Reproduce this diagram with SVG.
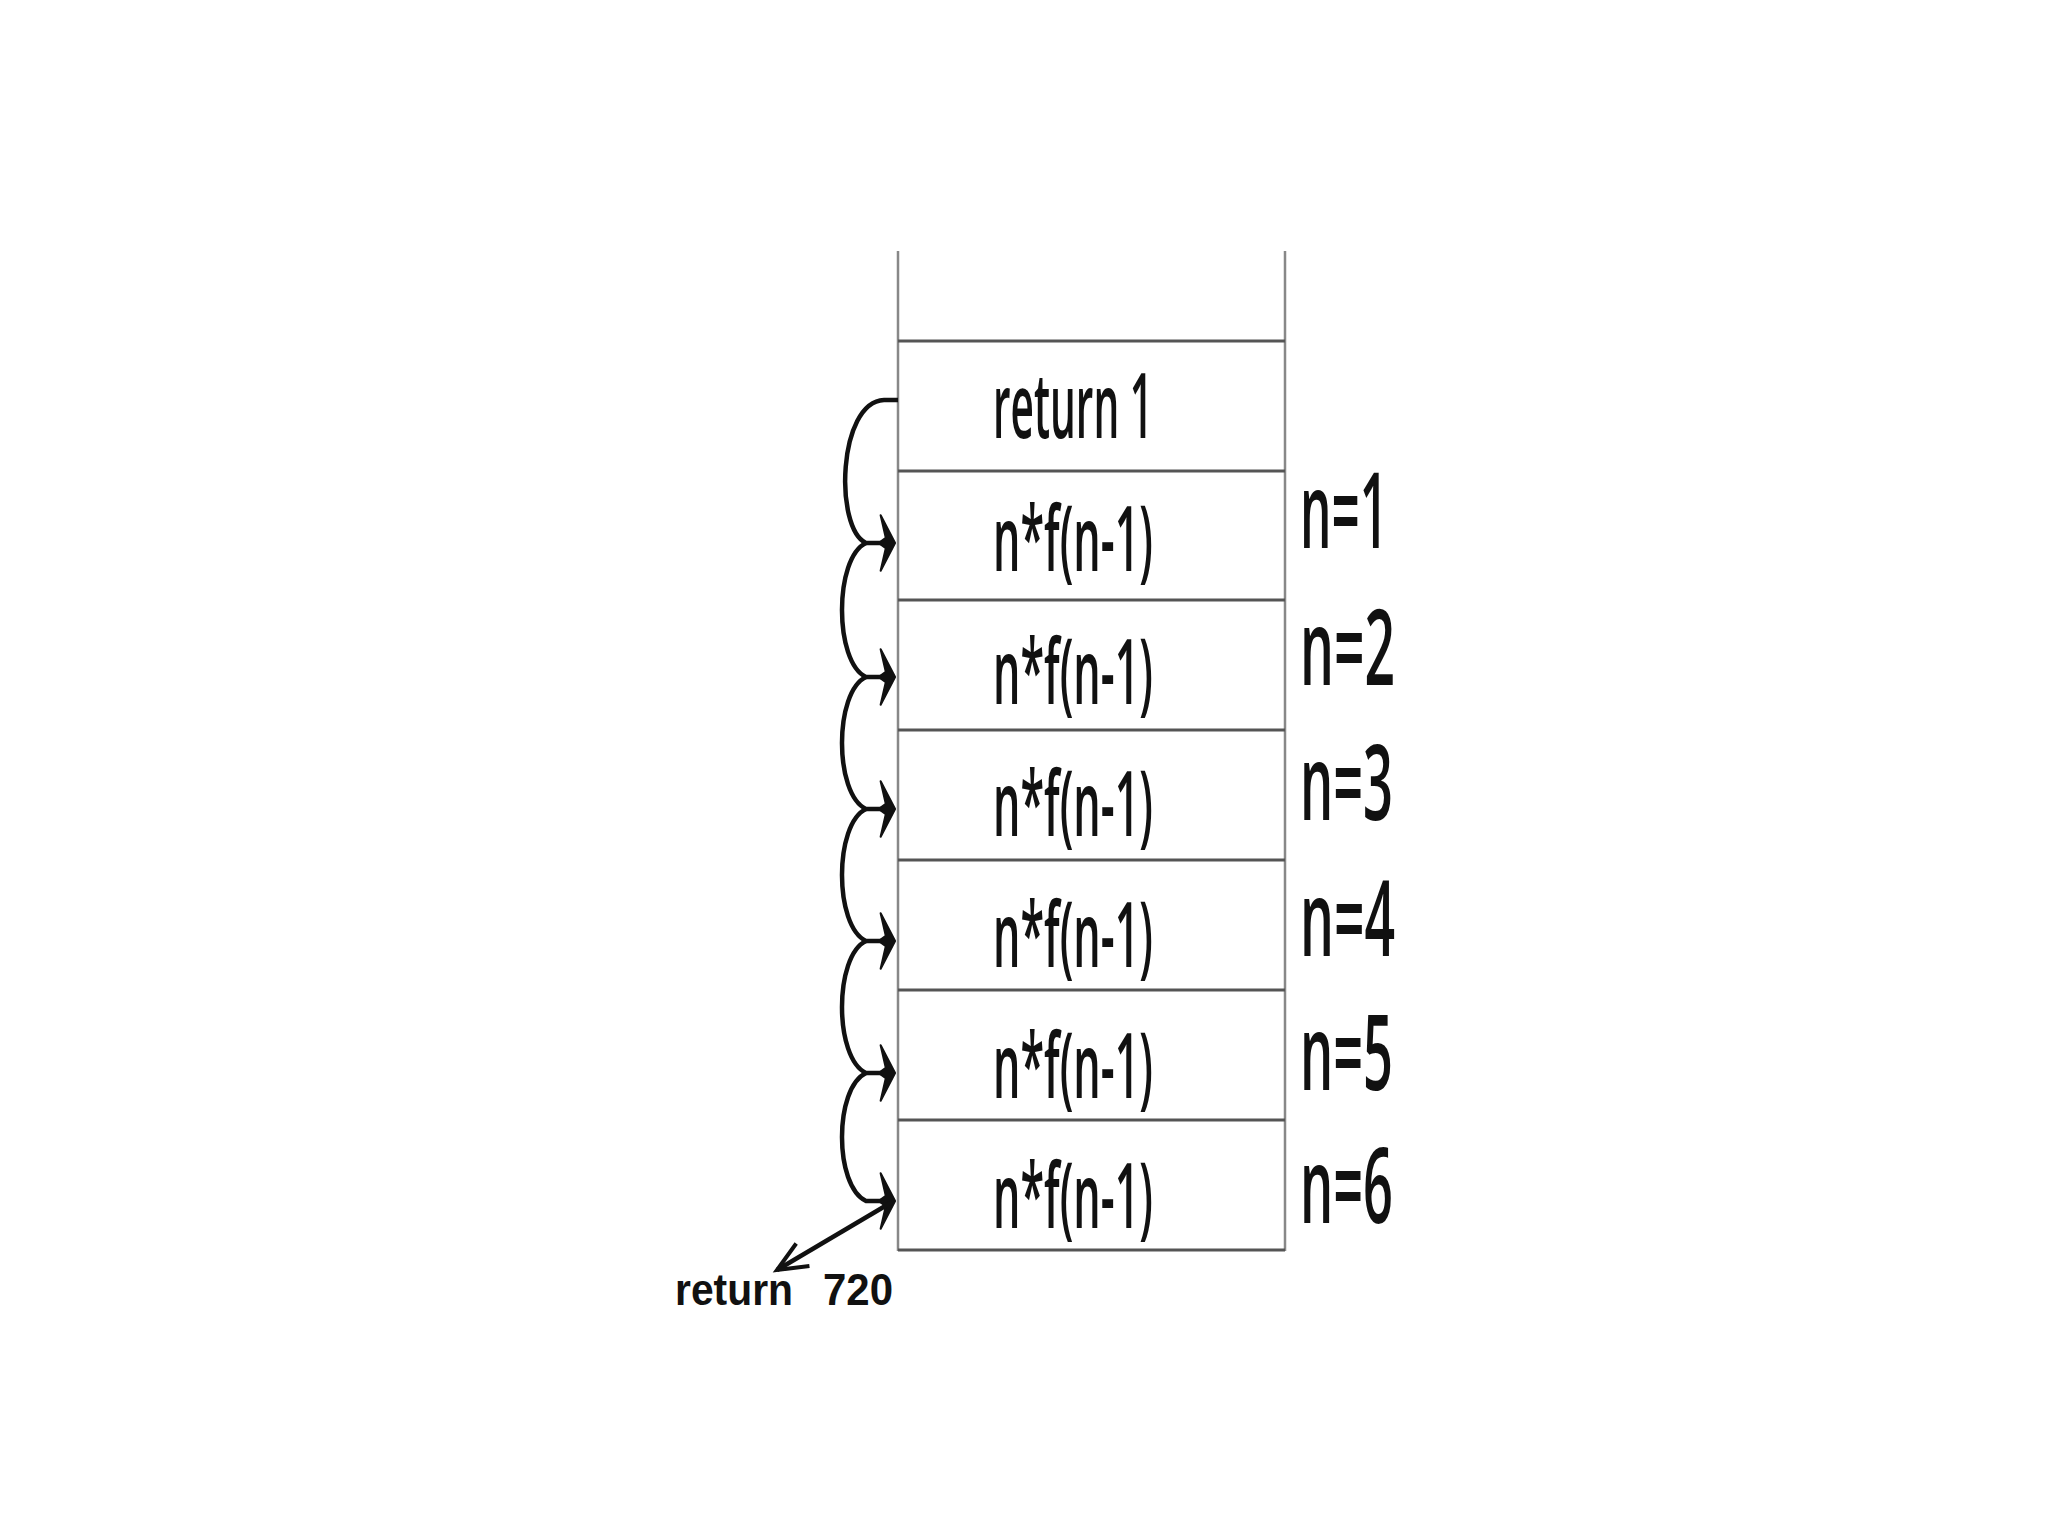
<svg xmlns="http://www.w3.org/2000/svg" width="2048" height="1536" viewBox="0 0 2048 1536">
<style>
.bg{fill:#fff}
.vline{stroke:#888;stroke-width:2.5;fill:none}
.hline{stroke:#555;stroke-width:3;fill:none}
.cell{font-family:"Open Sans","Noto Sans","DejaVu Sans",sans-serif;font-weight:600;font-size:90px;fill:#111}
.lab{font-family:"Open Sans","Noto Sans","DejaVu Sans",sans-serif;font-weight:600;font-size:106px;fill:#111}
.ret{font-family:"Liberation Sans",Arial,sans-serif;font-weight:bold;font-size:45px;fill:#111}
.conn{stroke:#111;stroke-width:4.5;fill:none}
</style>
<defs>
<marker id="barb" markerUnits="userSpaceOnUse" markerWidth="30" markerHeight="70" viewBox="-18 -34 22 68" refX="0" refY="0" orient="auto">
<path d="M2,0 L-12,-27 L-7,-5 L-14,0 L-7,5 L-12,27 Z" fill="#111" stroke="#111" stroke-width="2" stroke-linejoin="round"/>
</marker>
<marker id="open" markerUnits="userSpaceOnUse" markerWidth="40" markerHeight="40" viewBox="-34 -20 40 40" refX="0" refY="0" orient="auto">
<path d="M-30,-13 L0,0 L-30,13" fill="none" stroke="#111" stroke-width="4" stroke-linejoin="miter"/>
</marker>
</defs>
<rect class="bg" x="0" y="0" width="2048" height="1536"/>

<g id="stack">
<line class="vline" x1="898" y1="251" x2="898" y2="1251"/>
<line class="vline" x1="1285" y1="251" x2="1285" y2="1251"/>
<line class="hline" x1="898" y1="341" x2="1285" y2="341"/>
<line class="hline" x1="898" y1="471" x2="1285" y2="471"/>
<line class="hline" x1="898" y1="600" x2="1285" y2="600"/>
<line class="hline" x1="898" y1="730" x2="1285" y2="730"/>
<line class="hline" x1="898" y1="860" x2="1285" y2="860"/>
<line class="hline" x1="898" y1="990" x2="1285" y2="990"/>
<line class="hline" x1="898" y1="1120" x2="1285" y2="1120"/>
<line class="hline" x1="898" y1="1250" x2="1285" y2="1250"/>
</g>

<g id="frame0"><g transform="translate(993,438) scale(0.5,1)"><text class="cell" x="0" y="0" textLength="320" lengthAdjust="spacingAndGlyphs">return 1</text></g></g>
<g id="frame1"><g transform="translate(993,571) scale(0.5,1)"><text class="cell" x="0" y="0" textLength="320" lengthAdjust="spacingAndGlyphs">n*f(n-1)</text></g><g transform="translate(1300,548) scale(0.5,1)"><text class="lab" x="0" y="0" textLength="176" lengthAdjust="spacingAndGlyphs">n=1</text></g></g>
<g id="frame2"><g transform="translate(993,704) scale(0.5,1)"><text class="cell" x="0" y="0" textLength="320" lengthAdjust="spacingAndGlyphs">n*f(n-1)</text></g><g transform="translate(1300,685) scale(0.5,1)"><text class="lab" x="0" y="0" textLength="190" lengthAdjust="spacingAndGlyphs">n=2</text></g></g>
<g id="frame3"><g transform="translate(993,836) scale(0.5,1)"><text class="cell" x="0" y="0" textLength="320" lengthAdjust="spacingAndGlyphs">n*f(n-1)</text></g><g transform="translate(1300,820) scale(0.5,1)"><text class="lab" x="0" y="0" textLength="186" lengthAdjust="spacingAndGlyphs">n=3</text></g></g>
<g id="frame4"><g transform="translate(993,967) scale(0.5,1)"><text class="cell" x="0" y="0" textLength="320" lengthAdjust="spacingAndGlyphs">n*f(n-1)</text></g><g transform="translate(1300,956) scale(0.5,1)"><text class="lab" x="0" y="0" textLength="190" lengthAdjust="spacingAndGlyphs">n=4</text></g></g>
<g id="frame5"><g transform="translate(993,1098) scale(0.5,1)"><text class="cell" x="0" y="0" textLength="320" lengthAdjust="spacingAndGlyphs">n*f(n-1)</text></g><g transform="translate(1300,1090) scale(0.5,1)"><text class="lab" x="0" y="0" textLength="186" lengthAdjust="spacingAndGlyphs">n=5</text></g></g>
<g id="frame6"><g transform="translate(993,1228) scale(0.5,1)"><text class="cell" x="0" y="0" textLength="320" lengthAdjust="spacingAndGlyphs">n*f(n-1)</text></g><g transform="translate(1300,1223) scale(0.5,1)"><text class="lab" x="0" y="0" textLength="186" lengthAdjust="spacingAndGlyphs">n=6</text></g></g>
<g id="result"><text class="ret" x="675" y="1305" textLength="118" lengthAdjust="spacingAndGlyphs">return</text><text class="ret" x="823" y="1305" textLength="70" lengthAdjust="spacingAndGlyphs">720</text></g>

<g id="connectors">
<path class="conn" d="M898,400 L884,400 C838,402 834,528 866,543 L893,543" marker-end="url(#barb)"/>
<path class="conn" d="M866,543 C834,558 834,662 866,677 L893,677" marker-end="url(#barb)"/>
<path class="conn" d="M866,677 C834,692 834,794 866,809 L893,809" marker-end="url(#barb)"/>
<path class="conn" d="M866,809 C834,824 834,926 866,941 L893,941" marker-end="url(#barb)"/>
<path class="conn" d="M866,941 C834,956 834,1058 866,1073 L893,1073" marker-end="url(#barb)"/>
<path class="conn" d="M866,1073 C834,1088 834,1186 866,1201 L893,1201" marker-end="url(#barb)"/>
<path class="conn" d="M892,1202 L777,1270" stroke-width="3.5" marker-end="url(#open)"/>
</g>
</svg>
